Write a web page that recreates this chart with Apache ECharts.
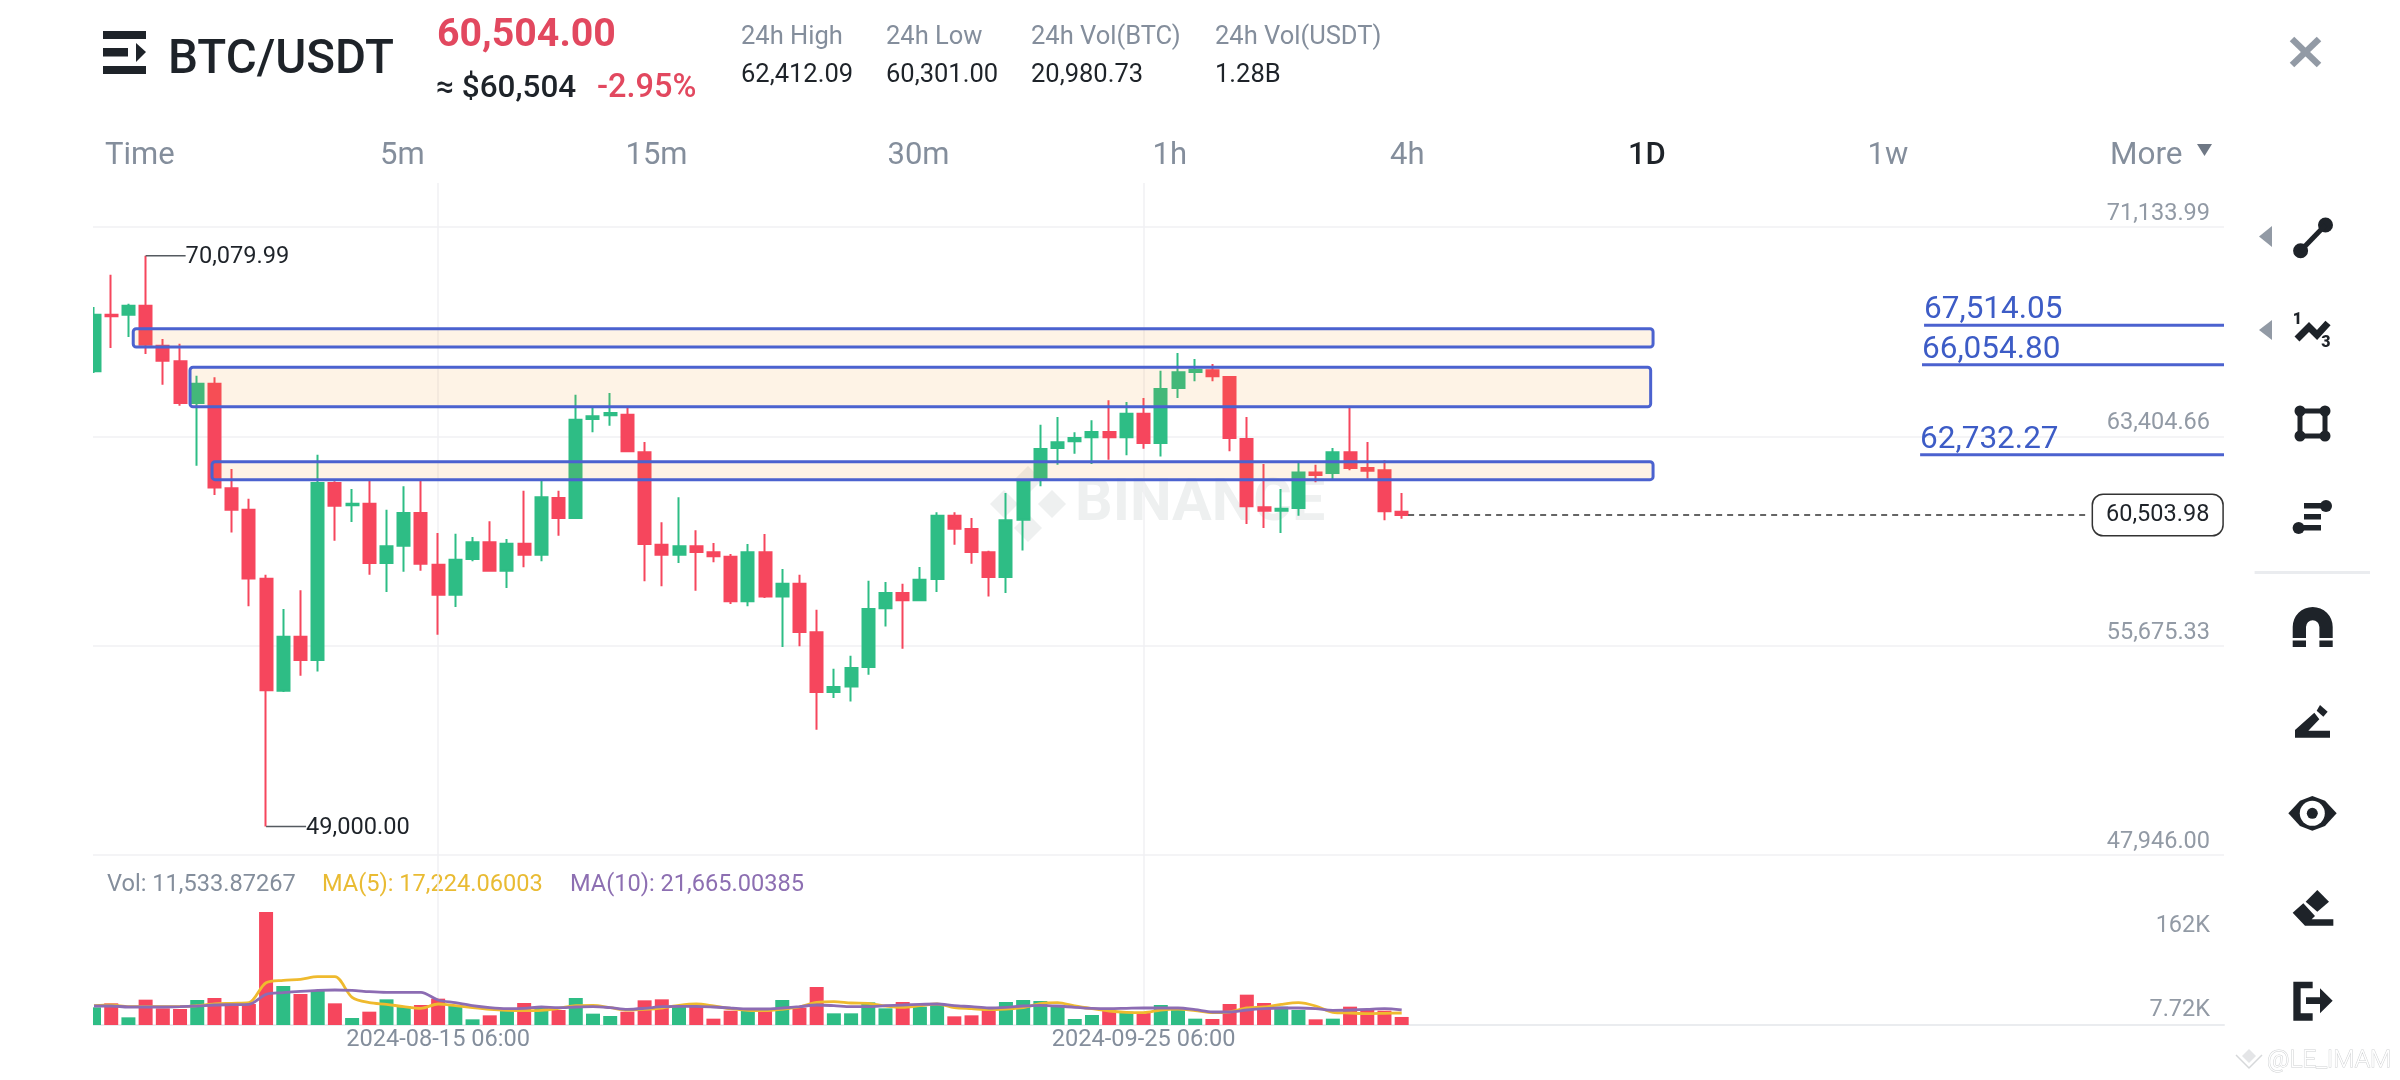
<!DOCTYPE html>
<html>
<head>
<meta charset="utf-8">
<title>BTC/USDT</title>
<script src="https://cdn.jsdelivr.net/npm/echarts@6/dist/echarts.min.js"></script>
<style>html,body{margin:0;padding:0;background:#fff}#c{width:2400px;height:1080px}</style>
</head>
<body>
<div id="c"></div>
<script>
const dates = ['2024-07-26','2024-07-27','2024-07-28','2024-07-29','2024-07-30','2024-07-31','2024-08-01','2024-08-02','2024-08-03','2024-08-04','2024-08-05','2024-08-06','2024-08-07','2024-08-08','2024-08-09','2024-08-10','2024-08-11','2024-08-12','2024-08-13','2024-08-14','2024-08-15','2024-08-16','2024-08-17','2024-08-18','2024-08-19','2024-08-20','2024-08-21','2024-08-22','2024-08-23','2024-08-24','2024-08-25','2024-08-26','2024-08-27','2024-08-28','2024-08-29','2024-08-30','2024-08-31','2024-09-01','2024-09-02','2024-09-03','2024-09-04','2024-09-05','2024-09-06','2024-09-07','2024-09-08','2024-09-09','2024-09-10','2024-09-11','2024-09-12','2024-09-13','2024-09-14','2024-09-15','2024-09-16','2024-09-17','2024-09-18','2024-09-19','2024-09-20','2024-09-21','2024-09-22','2024-09-23','2024-09-24','2024-09-25','2024-09-26','2024-09-27','2024-09-28','2024-09-29','2024-09-30','2024-10-01','2024-10-02','2024-10-03','2024-10-04','2024-10-05','2024-10-06','2024-10-07','2024-10-08','2024-10-09','2024-10-10'];
const opens = [65809,67902,67902,68234,66757,66178,64639,65354,61488,60699,58151,54014,56009,55147,61685,60860,60921,58730,59370,60576,58668,57560,58877,59493,58446,59444,59038,61131,60392,64048,64184,64209,62817,59407,59037,59345,59124,58964,57314,59124,57498,57966,56169,53965,54174,54889,57055,57622,57351,58139,60478,59986,59124,58213,60330,61808,62977,63224,63371,63568,63371,64245,63162,65193,65784,65846,65600,63310,60786,60663,60761,62078,62054,62817,62238,62152,60626];
const closes = [67902,67841,68234,66794,66203,64639,65354,61524,60699,58163,54027,56009,55147,61685,60847,60921,58730,59345,60576,58705,57560,58853,59493,58446,59444,59038,61155,60392,64024,64147,64270,62854,59432,59037,59345,59136,58976,57314,59124,57498,57966,56181,53965,54150,54851,57031,57622,57351,58114,60478,59998,59136,58213,60306,61783,62940,63187,63347,63568,63371,64245,63162,65156,65772,65871,65624,63347,60823,60663,60736,62078,61980,62817,62238,62140,60638,60504];
const lows = [65747,66671,67077,66449,65317,64541,62325,61241,59862,57129,49000,53965,54568,54728,59555,60244,58299,57659,58409,58446,56083,57104,58791,58409,57806,58570,58791,59739,60355,63556,63802,62817,58053,57868,58730,57708,58754,57215,57129,57437,55627,55652,52574,53743,53620,54605,56390,55566,57351,57658,59407,58705,57498,57622,59197,61561,62362,62768,62386,62546,62706,62953,62669,64824,65440,65440,62854,60170,60022,59838,60478,61709,61832,62152,61844,60306,60367];
const highs = [68185,69380,68308,70079.99,67003,66831,65649,65587,62202,61106,58299,57031,57720,62731,61746,61463,61808,60699,61561,61808,59838,59813,59690,60269,59616,61401,61808,61401,64947,64455,65009,64479,63199,60232,61155,59936,59468,59062,59432,59801,58508,58299,57006,54827,55307,58077,58028,57966,58582,60601,60601,60392,59185,61315,61808,63839,64122,63556,64000,64738,64676,64824,65834,66486,66265,66080,65600,64122,62386,61463,62485,62362,62977,64455,63199,62522,61315];
const volumes = [25334,31070,10994,36328,23900,22944,35850,38718,30114,30114,162000,55926,44454,49234,31070,10038,19120,36806,27246,28680,37762,27724,8126,13862,21510,31548,27246,21510,38718,16252,12906,19120,35372,36806,26290,28202,9082,20554,21510,20554,35850,24856,54492,16730,16730,32504,23900,32982,26290,30114,12428,13862,23900,32982,35850,34416,26290,8604,14340,21510,19120,17686,28680,21510,9082,8604,30114,43498,31548,26290,21510,8126,9082,26290,21510,20554,11533.87];
const ma5 = [27724,28680,26290,26290,26290,26290,27724,30114,31070,32026,60706,64052,65486,69310,69310,39674,32026,29636,26290,23900,30114,27724,24856,22466,21032,20554,21032,23900,27724,28202,24856,21510,22466,24378,28202,30114,27246,23422,21032,20554,22466,25812,32504,33460,31548,31070,27246,25334,27724,30114,24856,23422,21988,22944,24856,30592,32026,27246,23422,20076,18164,17686,21510,22944,20554,17686,18642,24378,25812,29636,32026,27246,18164,17208,16252,16730,17224.06];
const ma10 = [27246,27246,25812,25812,25812,26290,27246,28680,29158,29636,43976,46366,48278,49712,50190,49712,47800,46844,46844,46844,35850,32026,27724,24856,23422,23900,25812,24856,25812,26290,24856,22466,23900,26290,26768,26768,25812,24378,22944,22944,24378,26290,28680,27724,26290,26290,27724,28680,29636,30114,27724,26290,24378,25334,27246,28202,27246,25334,23900,23422,23900,24378,24378,24378,21988,18642,18642,21510,23422,24378,24378,23422,21032,21510,22466,23422,21665];
const priceTicks = [47946,55675.33,63404.66,71133.99];
const volTicks = [7720,162000];
const volTickLabels = ['7.72K','162K'];
const xTicks = ['2024-08-15 06:00','2024-09-25 06:00'];
const zoneStart = ['2024-07-28 12:43','2024-07-31 19:55','2024-08-02 02:38'];
const zoneEnd = ['2024-10-24 20:38','2024-10-24 17:17','2024-10-24 20:38'];
const zoneTop = [67385,65960,62470];
const zoneBottom = [66710,64500,61810];
const levelValues = [67514.05,66054.80,62732.27];
const levelStart = ['2024-11-09 14:38','2024-11-09 11:46','2024-11-09 09:07'];
const extremeDates = ['2024-07-29','2024-08-05'];
const extremeValues = [70079.99,49000];
const lastPrice = 60503.98;
const lastLineFrom = '2024-10-10 15:00';
const lastLineTo = '2024-11-19 02:00';
const axisStart = '2024-07-26 04:36';
const axisEnd = '2024-11-27 01:00';

const FONT = 'Roboto, sans-serif';
const t = s => +new Date((s.length === 10 ? s + ' 06:00' : s).replace(' ', 'T') + ':00');
const fmt = v => Number(v).toLocaleString('en-US', {minimumFractionDigits: 2, maximumFractionDigits: 2});
const GREEN = '#2ebd85', RED = '#f6465d', GRID = '#f0f1f3', GREY = '#848e9c', AXIS = '#929aa5', DARK = '#1e2329', BLUE = '#4b62cf', LBLUE = '#3d5cc6';
const times = dates.map(t);

const txt = (x, y, text, size, fill, weight, align) => ({
  type: 'text', silent: true,
  style: {x, y: y + size * 0.09, text, fontFamily: FONT, fontSize: size, fontWeight: weight || 400, fill, align: align || 'left', verticalAlign: 'middle'}
});
const poly = (pts, fill) => ({type: 'polygon', silent: true, shape: {points: pts}, style: {fill}});
const box = (x, y, w, h, fill, r) => ({type: 'rect', silent: true, shape: {x, y, width: w, height: h, r: r || 0}, style: {fill}});
const circ = (cx, cy, r, fill) => ({type: 'circle', silent: true, shape: {cx, cy, r}, style: {fill}});
const seg = (x1, y1, x2, y2, w, stroke) => ({type: 'line', silent: true, shape: {x1, y1, x2, y2}, style: {stroke, lineWidth: w}});
const zp = pts => pts.map(p => [2180 + p[0] / 3, 560 + p[1] / 3]);

const graphics = [
  // keeps the first, half-visible candle and bar cut at the left edge of the plot
  Object.assign(box(0, 183, 93, 843, '#fff'), {z: 100}),
  // header
  box(103, 31, 43, 8, DARK), box(103, 48, 25, 8.5, DARK), poly([[136, 43], [146, 52], [136, 62]], DARK), box(103, 66, 43, 8, DARK),
  txt(168, 57, 'BTC/USDT', 47.5, DARK, 500),
  txt(437, 33, '60,504.00', 39.3, '#e2485f', 700),
  txt(436, 86, '≈ $60,504', 31.5, DARK, 500),
  txt(597, 86, '-2.95%', 32.5, '#e2485f', 500),
  txt(741, 35, '24h High', 25.5, GREY), txt(741, 73, '62,412.09', 25.5, DARK),
  txt(886, 35, '24h Low', 25.5, GREY), txt(886, 73, '60,301.00', 25.5, DARK),
  txt(1031, 35, '24h Vol(BTC)', 25.5, GREY), txt(1031, 73, '20,980.73', 25.5, DARK),
  txt(1215, 35, '24h Vol(USDT)', 25.5, GREY), txt(1215, 73, '1.28B', 25.5, DARK),
  seg(2292, 39, 2319, 65, 6.5, AXIS), seg(2319, 39, 2292, 65, 6.5, AXIS),
  // tabs
  txt(105, 153, 'Time', 31, GREY), txt(380, 153, '5m', 31, GREY), txt(625.5, 153, '15m', 31, GREY), txt(887.5, 153, '30m', 31, GREY),
  txt(1152.5, 153, '1h', 31, GREY), txt(1390, 153, '4h', 31, GREY), txt(1628, 153, '1D', 31, DARK, 500), txt(1867.5, 153, '1w', 31, GREY),
  txt(2110, 153, 'More', 31.5, GREY), poly([[2197, 144], [2212, 144], [2204.5, 156]], '#6f7885'),
  // legend of the volume pane
  txt(107, 883, 'Vol: 11,533.87267', 23.6, GREY),
  txt(322, 883, 'MA(5): 17,224.06003', 23.6, '#e9bb33'),
  txt(570, 883, 'MA(10): 21,665.00385', 23.6, '#8d6fb2'),
  // chart watermark
  poly([[1028, 466], [1042, 480], [1028, 494], [1014, 480]], '#eef0f0'),
  poly([[1004, 490], [1018, 504], [1004, 518], [990, 504]], '#eef0f0'),
  poly([[1052, 490], [1066, 504], [1052, 518], [1038, 504]], '#eef0f0'),
  poly([[1028, 514], [1042, 528], [1028, 542], [1014, 528]], '#eef0f0'),
  txt(1075, 500, 'BINANCE', 59, '#eef0f0', 700),
  // toolbar
  poly([[2259, 236.5], [2272, 226], [2272, 247]], AXIS), poly([[2259, 330], [2272, 320], [2272, 340]], AXIS),
  circ(2325.5, 225, 7.5, DARK), circ(2300.6, 250.7, 7.5, DARK), seg(2300.6, 250.7, 2325.5, 225, 5, DARK),
  {type: 'polyline', silent: true, shape: {points: [[2297, 339], [2309, 327], [2317, 335], [2328, 323]]}, style: {stroke: DARK, lineWidth: 7, fill: 'none'}},
  txt(2297.5, 319, '1', 16, DARK, 900, 'center'), txt(2326, 342, '3', 16, DARK, 900, 'center'),
  {type: 'rect', silent: true, shape: {x: 2300, y: 411, width: 25, height: 25}, style: {stroke: DARK, lineWidth: 5, fill: 'none'}},
  circ(2300, 411, 5.5, DARK), circ(2325, 411, 5.5, DARK), circ(2300, 436, 5.5, DARK), circ(2325, 436, 5.5, DARK),
  circ(2326, 506, 6, DARK), box(2304, 503, 20, 5.5, DARK), box(2304, 514, 17, 5.5, DARK), circ(2298.6, 528, 6, DARK), box(2298, 525, 23, 5.5, DARK),
  box(2254.6, 571, 115.4, 3, '#eaecef'),
  {type: 'sector', silent: true, shape: {cx: 2312.7, cy: 627, r: 20, r0: 6.7, startAngle: Math.PI, endAngle: Math.PI * 2}, style: {fill: DARK}},
  box(2292.7, 627, 13.3, 11, DARK), box(2319.4, 627, 13.3, 11, DARK),
  box(2292.7, 640.5, 13.3, 6.5, DARK), box(2319.4, 640.5, 13.3, 6.5, DARK),
  poly(zp([[345, 510], [403, 458], [418, 478], [385, 512], [450, 512], [450, 533], [345, 533]]), DARK),
  poly(zp([[410, 452], [420, 435], [443, 455], [430, 470]]), DARK),
  poly(zp([[325, 760], [360, 722], [397, 708], [435, 722], [470, 760], [435, 798], [397, 812], [360, 798]]), DARK),
  circ(2312.3, 813.3, 12.5, '#fff'), circ(2312.3, 813.3, 5.5, DARK),
  poly(zp([[377, 1025], [412, 990], [447, 1025], [412, 1055]]), DARK),
  poly(zp([[338, 1058], [370, 1030], [405, 1068], [395, 1078], [460, 1078], [460, 1097], [375, 1097]]), DARK),
  poly(zp([[340, 1265], [398, 1265], [398, 1285], [362, 1285], [362, 1360], [398, 1360], [398, 1382], [340, 1382]]), DARK),
  poly(zp([[378, 1312], [420, 1312], [420, 1285], [458, 1322], [420, 1360], [420, 1332], [378, 1332]]), DARK),
  // source watermark
  {type: 'polyline', silent: true, shape: {points: [[2236, 1055], [2249, 1068], [2262, 1055]]}, style: {stroke: '#d6d8da', lineWidth: 1.5, fill: 'none'}},
  poly([[2249, 1049], [2256, 1056], [2249, 1063], [2242, 1056]], '#e4e5e7'),
  {type: 'text', silent: true, style: {x: 2267, y: 1061, text: '@LE_IMAM', fontFamily: FONT, fontSize: 24.5, fontWeight: 300, fill: '#fff', stroke: '#cfd1d3', lineWidth: 1, align: 'left', verticalAlign: 'middle'}}
];

const option = {
  animation: false,
  backgroundColor: '#fff',
  textStyle: {fontFamily: FONT},
  graphic: {elements: graphics},
  grid: [
    {left: 93, right: 176, top: 183, height: 672},
    {left: 93, right: 176, top: 855, height: 170}
  ],
  xAxis: [0, 1].map(i => ({
    type: 'value', gridIndex: i, min: t(axisStart), max: t(axisEnd), scale: true,
    axisPointer: {show: false},
    axisLine: i ? {show: true, onZero: false, lineStyle: {color: '#eaecef', width: 2}} : {show: false},
    axisTick: {show: false, customValues: xTicks.map(t)},
    splitLine: {show: true, lineStyle: {color: GRID, width: 1.5}},
    axisLabel: {
      show: !!i, customValues: xTicks.map(t), color: GREY, fontSize: 23.6, fontFamily: FONT, margin: 3,
      formatter: v => xTicks[xTicks.map(t).indexOf(+v)]
    }
  })),
  yAxis: [
    {
      type: 'value', gridIndex: 0, position: 'right', min: 47946, max: 72766, scale: true,
      axisLine: {show: false}, axisTick: {show: false, customValues: priceTicks},
      splitLine: {show: true, lineStyle: {color: GRID, width: 1.5}},
      axisLabel: {customValues: priceTicks, inside: true, color: AXIS, fontSize: 23.5, fontFamily: FONT, margin: 14, align: 'right', verticalAlign: 'bottom', padding: [0, 0, 1, 0], formatter: v => fmt(v)}
    },
    {
      type: 'value', gridIndex: 1, position: 'right', min: 0, max: 243800,
      axisLine: {show: false}, axisTick: {show: false, customValues: volTicks}, splitLine: {show: false},
      axisLabel: {
        customValues: volTicks, inside: true, fontFamily: FONT, margin: 14, align: 'right', verticalAlign: 'middle',
        formatter: v => (v === volTicks[0] ? '{low|' : '{high|') + volTickLabels[volTicks.indexOf(v)] + '}',
        rich: {
          low: {color: AXIS, fontSize: 23.5, fontFamily: FONT, padding: [0, 0, 18, 0]},
          high: {color: AXIS, fontSize: 23.5, fontFamily: FONT, padding: [29, 0, 0, 0]}
        }
      }
    }
  ],
  series: [
    {
      type: 'candlestick', name: 'BTC/USDT', xAxisIndex: 0, yAxisIndex: 0, z: 3, barWidth: 12.5, clip: true,
      encode: {x: 0, y: [1, 2, 3, 4]},
      itemStyle: {color: GREEN, color0: RED, borderColor: GREEN, borderColor0: RED, borderWidth: 2},
      data: times.map((d, i) => [d, opens[i], closes[i], lows[i], highs[i]])
    },
    {
      type: 'custom', name: 'Zones', xAxisIndex: 0, yAxisIndex: 0, z: 5, clip: false, silent: true,
      data: zoneStart.map((s, i) => [t(s), zoneTop[i], t(zoneEnd[i]), zoneBottom[i]]),
      renderItem: (p, api) => {
        const a = api.coord([api.value(0), api.value(1)]), b = api.coord([api.value(2), api.value(3)]);
        return {type: 'rect', shape: {x: a[0], y: a[1], width: b[0] - a[0], height: b[1] - a[1], r: 3},
          style: {fill: 'rgba(247,147,26,0.11)', stroke: BLUE, lineWidth: 3}};
      }
    },
    {
      type: 'custom', name: 'Levels', xAxisIndex: 0, yAxisIndex: 0, z: 5, clip: false, silent: true,
      data: levelValues.map((v, i) => [t(levelStart[i]), v]),
      renderItem: (p, api) => {
        const a = api.coord([api.value(0), api.value(1)]), r = p.coordSys.x + p.coordSys.width;
        return {type: 'group', children: [
          {type: 'line', shape: {x1: a[0], y1: a[1], x2: r, y2: a[1]}, style: {stroke: BLUE, lineWidth: 3}},
          {type: 'text', style: {x: a[0], y: a[1] - 15, text: fmt(levelValues[p.dataIndex]), fontFamily: FONT, fontSize: 31.5, fill: LBLUE, align: 'left', verticalAlign: 'middle'}}
        ]};
      }
    },
    {
      type: 'custom', name: 'Extremes', xAxisIndex: 0, yAxisIndex: 0, z: 6, clip: false, silent: true,
      data: extremeDates.map((d, i) => [t(d), extremeValues[i]]),
      renderItem: (p, api) => {
        const a = api.coord([api.value(0), api.value(1)]);
        return {type: 'group', children: [
          {type: 'line', shape: {x1: a[0], y1: a[1], x2: a[0] + 40, y2: a[1]}, style: {stroke: '#555a60', lineWidth: 1.5}},
          {type: 'text', style: {x: a[0] + 40, y: a[1] + 1.5, text: fmt(extremeValues[p.dataIndex]), fontFamily: FONT, fontSize: 23.6, fill: DARK, align: 'left', verticalAlign: 'middle'}}
        ]};
      }
    },
    {
      type: 'line', name: 'Last price', xAxisIndex: 0, yAxisIndex: 0, z: 6, silent: true, showSymbol: false,
      lineStyle: {color: '#333', width: 1.5, type: [6, 5]},
      data: [[t(lastLineFrom), lastPrice], [t(lastLineTo), lastPrice]],
      endLabel: {show: true, formatter: () => fmt(lastPrice), distance: 6, color: DARK, fontSize: 23.5, fontFamily: FONT,
        backgroundColor: '#fff', borderColor: '#333', borderWidth: 1.5, borderRadius: 10, padding: [8, 13, 8, 13]}
    },
    {
      type: 'bar', name: 'Vol', xAxisIndex: 1, yAxisIndex: 1, barWidth: 14, z: 2, clip: true,
      itemStyle: {color: p => closes[p.dataIndex] >= opens[p.dataIndex] ? GREEN : RED},
      data: times.map((d, i) => [d, volumes[i]])
    },
    {
      type: 'line', name: 'MA(5)', xAxisIndex: 1, yAxisIndex: 1, z: 3, smooth: 0.3, showSymbol: false, silent: true,
      lineStyle: {color: '#efba2e', width: 2.8},
      data: times.map((d, i) => [d, ma5[i]])
    },
    {
      type: 'line', name: 'MA(10)', xAxisIndex: 1, yAxisIndex: 1, z: 4, smooth: 0.3, showSymbol: false, silent: true,
      lineStyle: {color: '#8c6cb3', width: 2.8},
      data: times.map((d, i) => [d, ma10[i]])
    }
  ]
};
echarts.init(document.getElementById('c')).setOption(option);
</script>
</body>
</html>
